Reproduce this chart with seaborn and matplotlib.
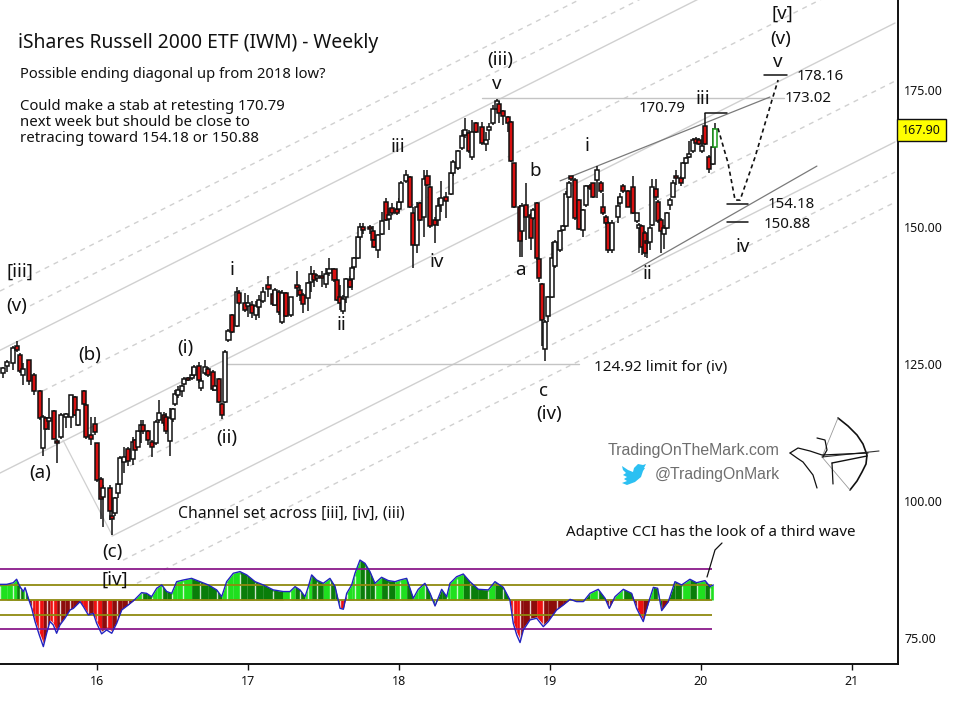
import numpy as np
import pandas as pd
import matplotlib
matplotlib.use("Agg")
import matplotlib.pyplot as plt
import seaborn as sns

# weekly candles, dates as year fraction (16 = 2016), prices
dates = [15.376,15.407,15.446,15.468,15.490,15.508,15.548,15.585,15.623,15.645,15.663,15.682,15.718,15.738,15.760,15.793,15.826,15.852,15.877,15.914,
 15.928,15.958,15.987,16.003,16.027,16.042,16.086,16.097,16.122,16.137,16.153,16.179,16.208,16.241,16.252,16.274,16.290,16.307,16.336,16.362,
 16.391,16.409,16.444,16.457,16.484,16.506,16.519,16.539,16.561,16.576,16.601,16.627,16.645,16.676,16.691,16.716,16.738,16.766,16.782,16.811,16.828,16.848,
 16.871,16.897,16.926,16.943,16.981,17.003,17.025,17.054,17.076,17.098,17.136,17.164,17.180,17.208,17.224,17.253,17.283,17.323,17.345,17.367,
 17.400,17.416,17.438,17.460,17.489,17.517,17.540,17.573,17.588,17.610,17.632,17.650,17.676,17.690,17.705,17.727,17.743,17.760,17.809,17.826,
 17.835,17.864,17.886,17.915,17.937,17.952,17.985,18.003,18.012,18.047,18.074,18.091,18.118,18.140,18.166,18.189,18.206,18.239,18.261,18.277,18.312,18.343,
 18.360,18.393,18.415,18.438,18.466,18.486,18.508,18.548,18.577,18.599,18.625,18.647,18.663,18.691,18.720,18.740,18.762,18.802,18.817,18.842,
 18.872,18.886,18.912,18.930,18.950,18.970,18.987,19.012,19.034,19.067,19.089,19.106,19.126,19.140,19.166,19.195,19.221,19.237,19.265,19.287,
 19.314,19.336,19.354,19.369,19.387,19.409,19.449,19.466,19.486,19.519,19.548,19.574,19.592,19.608,19.630,19.645,19.663,19.674,19.703,19.718,
 19.733,19.755,19.773,19.795,19.813,19.833,19.866,19.884,19.901,19.923,19.945,19.967,19.990,20.005,20.027,20.056,20.082,20.095]
opens = [123.3,124.6,125.1,128.3,126.6,123.0,125.7,123.0,120.1,109.6,115.1,114.6,116.5,111.0,111.6,115.3,115.4,119.0,113.9,120.1,
 117.5,112.0,114.0,110.5,104.1,100.8,102.3,97.2,97.8,101.4,103.1,107.2,109.4,107.6,111.1,109.9,112.7,113.9,112.7,110.7,
 110.5,114.8,115.7,115.3,111.0,114.9,117.7,119.3,120.0,121.4,122.4,122.4,123.0,124.7,120.7,123.3,124.0,123.6,120.3,122.2,117.7,118.0,
 129.4,133.9,131.9,137.9,136.1,135.5,135.8,133.9,135.4,136.4,139.4,137.8,135.8,138.2,132.6,138.0,133.9,139.4,138.5,137.6,
 137.0,140.0,141.4,140.6,141.0,139.6,141.6,142.3,140.3,137.2,134.6,137.3,140.3,140.5,142.6,144.3,148.2,149.9,149.9,149.3,
 147.6,145.8,148.7,154.6,151.5,153.4,153.2,153.2,154.6,158.3,159.1,152.6,146.7,154.4,151.9,159.2,157.2,151.3,151.3,154.0,155.4,156.0,
 159.8,160.7,164.4,166.7,167.2,162.8,168.9,168.2,165.2,167.7,168.9,171.5,172.4,171.2,170.1,169.2,161.6,153.7,149.2,154.0,
 152.2,151.6,154.3,144.1,139.6,127.7,133.8,137.3,142.8,145.7,149.5,150.1,155.4,159.2,158.6,154.9,149.5,154.0,157.5,158.0,
 158.5,158.0,153.7,151.9,150.7,145.8,151.8,154.3,157.5,156.5,157.2,151.0,149.8,150.2,148.9,147.3,147.3,150.4,156.9,154.6,
 151.3,148.7,149.8,154.0,155.5,159.3,158.9,158.9,161.7,162.7,163.8,166.0,165.9,163.9,168.4,162.8,161.5,164.5]
highs = [124.5,125.7,128.2,129.1,127.0,125.1,125.8,123.3,120.3,115.7,115.3,118.7,116.6,111.4,116.0,116.1,119.4,119.2,116.7,120.3,
 117.7,115.4,115.4,110.6,104.4,102.9,102.9,98.1,100.8,103.2,108.2,109.9,109.9,111.7,111.3,112.8,114.8,114.8,113.0,111.1,
 114.8,118.4,116.3,116.0,116.9,116.9,120.3,120.9,121.2,122.6,122.6,124.5,124.8,125.4,122.4,125.7,124.5,123.9,121.2,122.4,117.9,127.5,
 131.3,134.2,139.0,138.5,137.9,137.6,136.4,136.4,137.6,139.1,141.0,138.5,138.8,138.5,138.5,138.2,137.3,141.9,139.4,137.9,
 140.0,142.9,142.2,141.4,141.9,142.5,144.3,142.5,140.5,139.4,137.6,140.6,141.0,142.8,144.6,148.4,150.7,150.7,150.4,150.1,
 148.5,148.8,152.8,155.2,153.4,154.3,154.3,155.2,158.3,160.4,159.3,153.7,154.6,154.6,160.4,160.4,157.5,151.9,155.2,158.3,156.4,160.1,
 162.2,164.1,167.6,169.8,167.7,169.5,169.2,169.2,167.4,168.9,172.3,173.4,172.9,171.4,170.3,169.4,161.7,154.0,154.3,158.0,
 152.5,153.4,154.6,144.3,139.7,133.0,137.4,147.3,147.6,149.5,150.4,156.5,158.3,159.3,158.9,155.1,153.2,157.7,157.9,158.1,
 161.1,158.3,156.2,152.2,151.0,151.3,155.5,156.2,157.9,156.8,159.2,152.6,150.7,150.4,149.2,147.6,150.2,158.7,158.7,154.9,
 151.6,150.4,152.8,155.2,158.6,160.4,159.3,161.9,162.8,165.6,166.2,166.4,166.2,166.8,170.79,163.1,168.0,168.9]
lows = [122.4,123.6,123.9,127.2,123.4,121.2,121.2,119.3,114.8,108.2,112.9,113.0,111.4,107.0,111.4,113.3,113.3,115.5,113.6,117.5,
 111.4,110.2,112.0,103.5,96.8,95.2,96.5,93.8,97.2,100.5,102.9,105.1,106.3,106.6,109.2,109.8,110.5,112.3,110.2,108.1,
 110.2,114.2,113.6,112.3,108.2,114.5,117.3,118.7,119.0,121.2,121.9,122.1,122.7,121.5,120.0,123.0,122.7,120.1,120.0,117.9,114.9,117.8,
 129.0,130.6,131.8,135.8,134.4,133.6,133.3,133.0,133.3,136.1,137.3,135.5,135.5,133.9,132.3,133.6,133.6,137.3,136.4,134.3,
 134.6,138.2,139.1,140.0,139.1,138.8,141.0,140.0,136.4,134.9,134.1,136.1,138.8,138.5,142.2,144.1,147.6,148.8,148.8,146.7,
 146.1,144.3,148.5,151.0,149.5,152.2,152.2,152.8,154.3,158.0,153.4,142.5,145.2,151.0,148.2,157.4,149.8,147.0,150.1,152.8,151.6,155.8,
 159.2,160.4,164.1,166.2,163.4,162.2,167.1,165.0,163.8,165.9,168.6,171.4,168.9,168.6,167.4,161.9,153.4,144.6,144.6,147.6,
 145.8,151.3,144.0,140.0,128.2,125.6,132.7,137.0,142.5,145.5,149.2,150.0,155.2,158.3,151.3,149.5,148.1,153.7,156.8,155.2,
 155.2,156.2,152.2,150.4,145.2,145.2,150.8,154.0,156.2,153.6,152.4,150.7,145.2,144.9,144.6,144.3,145.8,150.2,154.9,150.7,
 145.2,145.9,149.6,153.1,155.4,157.7,157.4,158.6,161.5,162.5,163.4,165.3,165.0,163.4,165.0,159.8,161.3,164.4]
closes = [124.2,125.4,127.9,127.6,123.8,124.0,121.8,120.0,115.1,115.3,113.1,115.1,111.4,110.6,115.7,115.8,119.3,115.7,116.6,117.7,
 111.7,111.4,112.5,103.8,100.4,102.3,98.1,96.7,100.5,103.1,107.9,108.1,107.3,110.8,109.3,112.7,113.9,112.7,111.1,109.8,
 114.5,116.0,114.2,112.7,115.1,116.7,119.6,120.3,120.9,122.3,122.1,123.0,124.5,122.0,121.8,124.5,123.0,120.4,120.9,118.1,115.7,127.2,
 131.0,130.9,138.2,136.1,134.9,136.2,134.3,135.5,136.7,138.1,138.6,136.0,138.5,134.4,137.9,133.8,137.2,138.8,137.6,136.0,
 139.7,141.4,140.3,140.9,140.6,141.4,142.3,140.3,136.6,136.1,136.8,140.5,139.1,142.5,144.3,148.1,149.9,149.5,149.6,147.6,
 146.4,148.5,151.0,151.3,152.2,152.5,152.5,154.6,158.0,159.5,153.7,146.7,153.7,151.3,158.7,157.7,150.1,150.4,153.8,155.2,154.8,159.8,
 161.9,163.8,166.5,167.7,163.8,167.4,167.4,165.3,165.9,168.3,171.5,173.0,170.7,170.3,168.9,162.1,153.7,147.5,153.8,151.9,
 147.9,153.0,144.3,140.6,133.0,132.7,137.2,144.3,147.3,149.2,150.1,156.0,158.0,158.7,151.6,149.6,153.0,157.4,157.1,155.5,
 160.4,156.5,152.6,150.8,145.8,150.8,153.8,155.4,156.5,153.7,152.5,152.5,150.4,146.4,145.2,147.0,149.8,157.2,155.4,151.0,
 149.2,149.8,152.5,154.9,158.1,158.9,158.0,161.6,162.5,163.3,165.9,165.4,165.2,164.8,165.2,160.5,164.5,167.9]

# adaptive CCI, lower panel
cci_dates = [15.358,15.402,15.446,15.468,15.490,15.513,15.524,15.546,15.568,15.590,15.618,15.645,15.667,15.689,15.711,15.733,15.755,15.788,15.822,15.844,
 15.888,15.910,15.943,15.976,15.998,16.031,16.064,16.098,16.131,16.164,16.208,16.252,16.296,16.329,16.362,16.396,16.429,16.462,16.495,16.528,
 16.572,16.627,16.683,16.738,16.793,16.826,16.859,16.903,16.947,16.992,17.047,17.102,17.168,17.234,17.278,17.312,17.345,17.378,17.400,17.422,
 17.455,17.499,17.543,17.577,17.610,17.632,17.654,17.687,17.709,17.742,17.775,17.808,17.841,17.885,17.930,17.974,18.007,18.051,18.095,18.128,
 18.172,18.206,18.239,18.283,18.316,18.338,18.382,18.426,18.470,18.526,18.592,18.636,18.691,18.735,18.757,18.780,18.802,18.824,18.868,18.912,
 18.956,18.989,19.044,19.089,19.133,19.177,19.221,19.265,19.320,19.365,19.393,19.431,19.486,19.541,19.574,19.618,19.658,19.685,19.713,19.740,
 19.784,19.828,19.872,19.927,19.971,20.027,20.060,20.082]
cci_values = [104,104,115,138,89,56,82,11,-56,-144,-233,-311,-222,-144,-167,-222,-167,-122,-67,-56,
 -11,-44,-100,-89,-155,-226,-200,-222,-155,-67,-33,4,49,44,22,78,100,56,44,122,
 133,144,122,100,67,22,122,178,189,167,122,100,67,56,56,89,67,22,89,167,
 133,111,144,89,-56,-62,44,100,178,266,244,189,111,151,129,122,133,144,11,71,
 111,44,-40,71,22,111,155,173,122,71,67,122,84,0,-155,-233,-284,-200,-133,-122,
 -178,-144,-67,-33,4,-11,-11,44,71,11,-56,22,71,44,-56,-144,0,84,78,-71,
 -11,122,100,138,115,129,89,100]
cci_levels = [205, 100, 0, -100, -195]

# channel set across [iii], [iv], (iii): start date, start price, end date, end price
channel_solid = [(15.358,127.5,21.285,209.6),(15.358,105.1,21.285,187.2),(16.100,93.6,21.285,165.5)]
channel_dashed = [(15.358,138.3,21.285,220.4),(15.557,135.6,21.285,214.9),(15.643,120.1,21.285,198.3),
                  (16.219,106.4,21.285,176.6),(16.173,89.2,21.285,160.0),(16.265,85.0,21.285,154.5)]
path_dates = [20.113,20.179,20.226,20.259,20.358,20.471,20.511]
path_prices = [168.0,161.7,154.9,154.9,162.7,173.2,176.8]
last_price = 167.90

sns.set_style("white")
plt.rcParams["font.family"] = ["Noto Sans", "DejaVu Sans"]

fig = plt.figure(figsize=(9.6, 7.01), dpi=100)
ax = fig.add_axes([0, 37 / 701, 898 / 960, 664 / 701])
ax.set_xlim(15.358, 21.305)
ax.set_ylim(70.26, 191.4)

GRAY = "#d0d0d0"
for x0, y0, x1, y1 in channel_solid:
    sns.lineplot(x=[x0, x1], y=[y0, y1], ax=ax, color=GRAY, lw=1.0, zorder=1)
for x0, y0, x1, y1 in channel_dashed:
    sns.lineplot(x=[x0, x1], y=[y0, y1], ax=ax, color=GRAY, lw=1.0, ls=(0, (3.6, 3.6)), zorder=1)
sns.lineplot(x=[15.775, 16.1], y=[111.1, 93.8], ax=ax, color=GRAY, lw=0.9, zorder=1)

# horizontal levels and the two ending diagonal trendlines
sns.lineplot(x=[16.848, 19.19], y=[124.92, 124.92], ax=ax, color="#c4c4c4", lw=1.0, zorder=1)
sns.lineplot(x=[18.55, 20.55], y=[173.6, 173.6], ax=ax, color="#c4c4c4", lw=1.0, zorder=1)
sns.lineplot(x=[19.067, 20.457], y=[158.4, 173.7], ax=ax, color="#7a7a7a", lw=0.9, zorder=1)
sns.lineplot(x=[19.543, 20.768], y=[141.8, 161.1], ax=ax, color="#7a7a7a", lw=0.9, zorder=1)

candles = pd.DataFrame({"date": dates, "open": opens, "high": highs, "low": lows, "close": closes})
candles["top"] = candles[["open", "close"]].max(axis=1)
candles["bottom"] = candles[["open", "close"]].min(axis=1)
candles["down"] = candles["close"] < candles["open"]

ax.vlines(candles["date"], candles["low"], candles["high"], color="#111111", lw=1.1, zorder=2)
face = np.where(candles["down"], "#d81010", "white")
edge = ["#111111"] * len(candles)
edge[-1] = "#1a9a1a"
ax.bar(candles["date"], (candles["top"] - candles["bottom"]).clip(lower=0.4), bottom=candles["bottom"],
       width=0.027, color=face, edgecolor=edge, linewidth=1.1, zorder=3)

# marks for the labelled levels
for d0, d1, level in [(20.03, 20.17, 170.79), (20.42, 20.57, 177.7), (20.175, 20.31, 154.18), (20.175, 20.31, 150.88)]:
    sns.lineplot(x=[d0, d1], y=[level, level], ax=ax, color="#111111", lw=1.1, zorder=4)
sns.lineplot(x=path_dates, y=path_prices, ax=ax, color="#111111", lw=1.2, ls=(0, (2.5, 2)), zorder=4)

ax.yaxis.tick_right()
ax.set_yticks([75, 100, 125, 150, 175])
ax.set_yticklabels(["75.00", "100.00", "125.00", "150.00", "175.00"])
ax.set_xticks([16, 17, 18, 19, 20, 21])
ax.set_xticklabels(["16", "17", "18", "19", "20", "21"])
ax.tick_params(axis="y", length=3, width=1, labelsize=9, pad=1.5, color="#111111", labelcolor="#111111", right=True)
ax.tick_params(axis="x", length=4, width=1, labelsize=9, pad=4, color="#111111", labelcolor="#111111", bottom=True)
sns.despine(ax=ax, left=True, top=True, right=False, bottom=False)
ax.spines["right"].set_linewidth(1.4)
ax.spines["bottom"].set_linewidth(1.4)
ax.spines["right"].set_color("#111111")
ax.spines["bottom"].set_color("#111111")
ax.set_xlabel("")
ax.set_ylabel("")

# CCI panel sits in the same frame, scaled so that its zero is at pixel row 600
ax2 = fig.add_axes(ax.get_position(), sharex=ax)
ax2.set_ylim(-427, 4000)
ax2.patch.set_alpha(0)
ax2.axis("off")
for a, b, va, vb in zip(cci_dates[:-1], cci_dates[1:], cci_values[:-1], cci_values[1:]):
    rising = vb >= va
    if va >= 0 and vb >= 0:
        col = "#1fe01f" if rising else "#0a7d0a"
    elif va <= 0 and vb <= 0:
        col = "#8c0c0c" if rising else "#ee1010"
    else:
        col = "#0a7d0a" if max(va, vb) > -min(va, vb) else "#8c0c0c"
    ax2.fill_between([a, b], [va * (0.92 if va < 0 else 1), vb * (0.92 if vb < 0 else 1)], 0, color=col, lw=0, zorder=1)
ax2.vlines(cci_dates[::2], 0, [v * 0.9 for v in cci_values[::2]], color="white", lw=1.0, alpha=0.75, zorder=2)
for lev, col in zip(cci_levels, ["#8a1a8a", "#8f8a10", "#8f8a10", "#8f8a10", "#8a1a8a"]):
    ax2.hlines(lev, 15.358, 20.07, color=col, lw=1.3, zorder=3)
sns.lineplot(x=cci_dates, y=cci_values, ax=ax2, color="#2222c0", lw=1.0, zorder=4, legend=False)
ax2.axis("off")

# overlay in pixel coordinates for the wave labels and notes
ov = fig.add_axes([0, 0, 1, 1])
ov.set_xlim(0, 960)
ov.set_ylim(701, 0)
ov.patch.set_alpha(0)
ov.axis("off")

def label(x, y, s, size=13.5, ha="center", color="#111111", family=None):
    ov.text(x, y, s, fontsize=size, ha=ha, va="center", color=color, family=family)

label(18, 43, "iShares Russell 2000 ETF (IWM) - Weekly", size=13.9, ha="left")
label(20, 75, "Possible ending diagonal up from 2018 low?", size=10.65, ha="left")
label(20, 106, "Could make a stab at retesting 170.79", size=10.75, ha="left")
label(20, 123, "next week but should be close to", size=10.75, ha="left")
label(20, 138, "retracing toward 154.18 or 150.88", size=10.75, ha="left")

wave_labels = [(20, 272, "[iii]"), (17, 306, "(v)"), (40, 473, "(a)"), (90, 355, "(b)"), (112, 552, "(c)"), (115, 580, "[iv]"),
               (185, 348, "(i)"), (227, 438, "(ii)"), (232, 270, "i"), (341, 325, "ii"), (398, 147, "iii"), (437, 262, "iv"),
               (497, 84, "v"), (500, 60, "(iii)"), (535, 171, "b"), (520, 270, "a"), (544, 391, "c"), (549, 414, "(iv)"),
               (587, 146, "i"), (647, 274, "ii"), (703, 99, "iii"), (743, 247, "iv"), (778, 62, "v"), (781, 39, "(v)"), (782, 14, "[v]")]
for x, y, s in wave_labels:
    label(x, y, s)

for x, y, s in [(662, 108, "170.79"), (820, 77, "178.16"), (808, 98, "173.02"), (791, 204, "154.18"), (787, 225, "150.88")]:
    label(x, y, s, size=10.8)
label(594, 368, "124.92 limit for (iv)", size=11, ha="left")
label(178, 513, "Channel set across [iii], [iv], (iii)", size=11.3, ha="left")
label(566, 532, "Adaptive CCI has the look of a third wave", size=10.85, ha="left")
ov.plot([707, 715, 722], [577, 550, 543], color="#111111", lw=0.9)

ov.text(921.5, 130, f"{last_price:.2f}", fontsize=9, ha="center", va="center", color="#111111",
        bbox=dict(boxstyle="square,pad=0.38", fc="#ffff00", ec="#111111", lw=1))

# site credit, bird and bow
label(608, 450, "TradingOnTheMark.com", size=11.45, ha="left", color="#6e6e6e", family="Liberation Sans")
label(655, 475, "@TradingOnMark", size=11.3, ha="left", color="#6e6e6e", family="Liberation Sans")
bird = [(622,466),(628,470),(633,472),(634,468),(638,464),(643,465),(646,464),(644,468),(645,468),(643,471),
        (641,477),(635,482),(627,485),(622,483),(627,481),(624,479),(627,477),(623,475),(626,473),(623,470)]
ov.fill([p[0] for p in bird], [p[1] for p in bird], color="#2cc0f2", lw=0)
bow_strokes = [([838,848,857,863,867,866,862,857,850], [418,426,435,444,455,464,472,481,490], 1.2, "#111111"),
               ([838,822,850], [418,457,490], 0.6, "#999999"),
               ([822,879], [457,451], 0.8, "#333333"),
               ([790,798,810,822,845,868], [453,448,451,455,454,453], 0.9, "#111111"),
               ([790,797,803,813,817], [453,458,462,475,488], 0.9, "#111111"),
               ([817,825,827,823], [438,440,450,457], 0.9, "#111111"),
               ([832,867], [463,456], 1.0, "#111111"),
               ([832,833], [463,484], 0.9, "#111111")]
for xs, ys, lw, col in bow_strokes:
    ov.plot(xs, ys, color=col, lw=lw)

fig.savefig("out.png", dpi=100)
